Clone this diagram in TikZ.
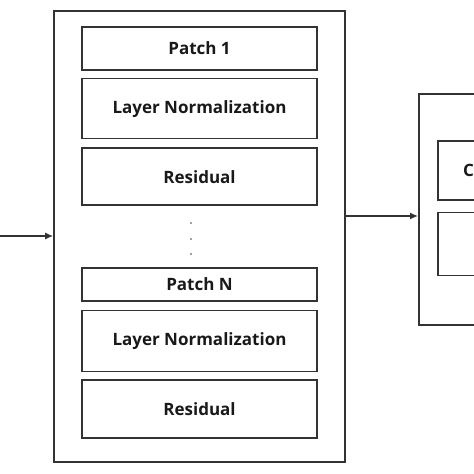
\documentclass[tikz,border=0pt]{standalone}
\usepackage{fontspec}
\setmainfont{Open Sans}[BoldFont={Open Sans Bold}]
\usetikzlibrary{positioning,arrows.meta}
\begin{document}
\begin{tikzpicture}[x=1pt,y=1pt,
  frame/.style={draw=black!80,line width=1.6pt,inner sep=0pt},
  blk/.style={frame,minimum width=235pt,font=\fontsize{17}{20}\selectfont\bfseries,text=black!90},
  flow/.style={-{Latex[length=8pt,width=7pt]},draw=black!80,line width=1.4pt}]
\useasboundingbox (0,0) rectangle (474,474);
\clip (0,0) rectangle (474,474);
% outer block
\node[frame,minimum width=291pt,minimum height=451pt] (outer) at (199.5,237.5) {};
\node[blk,minimum height=43pt] (patch1) at (199.5,425.5) {Patch 1};
\node[blk,minimum height=60pt,below=7pt of patch1] (norm1) {Layer Normalization};
\node[blk,minimum height=57pt,below=8pt of norm1] (res1) {Residual};
\node[blk,minimum height=33pt] (patchN) at (199.5,189.5) {Patch N};
\node[blk,minimum height=61pt,below=8pt of patchN] (normN) {Layer Normalization};
\node[blk,minimum height=58pt,below=7pt of normN] (resN) {Residual};
\foreach \y in {251,235,220} % edit here for the dots
\fill[black!75] (191,\y) circle (0.9pt);
% next block
\node[frame,minimum width=100pt,minimum height=231pt,anchor=north west] (head) at (418,381) {};
\node[blk,minimum width=80pt,minimum height=59pt,anchor=north west] (cbox) at (437,334) {};
\node[blk,minimum width=80pt,minimum height=63pt,below=11pt of cbox] (dbox) {};
\node[font=\fontsize{17}{20}\selectfont\bfseries,text=black!90,anchor=west,inner sep=0pt] (clabel) at ([xshift=26pt]cbox.west) {C};
% arrows
\coordinate (in) at (0,238);
\coordinate (mid) at (380,258);
\draw[flow] (in) -- (in -| outer.west);
\draw[flow] (outer.east |- mid) -- (head.west |- mid);
\end{tikzpicture}
\end{document}
